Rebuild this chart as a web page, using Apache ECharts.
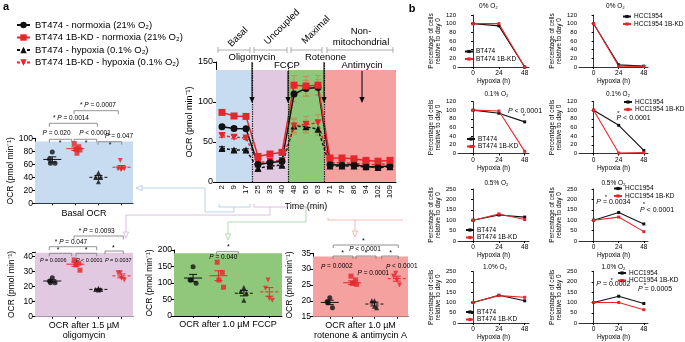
<!DOCTYPE html>
<html>
<head>
<meta charset="utf-8">
<script src="https://cdn.jsdelivr.net/npm/echarts@6/dist/echarts.min.js"></script>
<style>
  html, body { margin: 0; padding: 0; background: #fff; }
  #chart { width: 685px; height: 342px; }
</style>
</head>
<body>
<div id="chart"></div>
<script>
// ---- data: OCR time course (panel a, top) ----
const timeLabels = ['2', '9', '17', '25', '33', '40', '48', '56', '63', '71', '79', '86', '94', '102', '109'];
const ocrNormo = [69, 67, 66.5, 22, 24, 26, 110, 117, 118, 22, 21, 22, 19, 19, 20];
const ocrKdNormo = [87, 82.5, 82, 32, 35, 37, 121, 120, 121, 30, 30, 29, 27, 26, 27];
const ocrHypo = [42, 40, 40, 17, 20, 21, 70, 69, 66, 20, 20, 20, 19, 18, 19];
const ocrKdHypo = [58, 56, 55, 24, 26, 27, 70, 72, 74, 24, 24, 23, 22, 22, 23];
const errNormo = [2, 2, 2, 2, 2, 2, 10, 10, 10, 1.5, 1.5, 1.5, 1.5, 1.5, 1.5];
const errKdNormo = [2, 1.5, 1.5, 2, 2, 2, 12, 12, 12, 1.5, 1.5, 1.5, 1.5, 1.5, 1.5];
const errHypo = [2, 1.5, 1.5, 2, 2, 2, 8, 8, 8, 1.5, 1.5, 1.5, 1.5, 1.5, 1.5];
const errKdHypo = [2, 2, 2, 2, 2, 2, 10, 10, 10, 1.5, 1.5, 1.5, 1.5, 1.5, 1.5];

// ---- data: dot plots (groups: normoxia, 1B-KD normoxia, hypoxia, 1B-KD hypoxia) ----
const basalVals = [[79, 68, 61.5, 61.5], [92, 87, 83, 82, 77], [47, 40, 40, 33], [66, 53, 53, 53, 52]];
const basalMean = [67.5, 84, 40, 55.5];
const basalSem = [4, 2.7, 2.9, 2.7];
const oligoVals = [[26, 23.8, 22.7, 22.7], [37.8, 35.6, 34.5, 31], [18.9, 18.2, 18.2, 17.8], [29.3, 29.3, 25.6, 24.4]];
const oligoMean = [23.8, 35, 18.2, 27.2];
const oligoSem = [0.8, 1.4, 0.3, 1.3];
const fccpVals = [[149, 109, 109, 99], [163, 132, 109, 87], [86, 74, 69, 48], [109, 84, 53, 48]];
const fccpMean = [115, 122, 69, 73];
const fccpSem = [11, 15, 8, 13];
const rotVals = [[21, 19.7, 19.4, 17.8], [27.8, 26.6, 25.5, 25.2], [20, 20, 17.8, 18.3], [28.7, 27.8, 26.6, 25]];
const rotMean = [19.5, 25.7, 19, 27];
const rotSem = [0.7, 0.6, 0.6, 0.8];

// ---- data: panel b (percentage of cells relative to day 0) ----
const hours = [0, 24, 48];
const bt0 = [100, 95, 0], btKd0 = [100, 100, 0];
const hcc0 = [100, 5, 2], hccKd0 = [100, 2, 1];
const bt01 = [100, 93, 73], btKd01 = [100, 98, 5];
const hcc01 = [100, 65, 7], hccKd01 = [100, 1, 2];
const bt05 = [100, 125, 115], btKd05 = [100, 130, 103];
const hcc05 = [100, 137, 82], hccKd05 = [100, 115, 45];
const bt10 = [100, 135, 108], btKd10 = [100, 133, 125];
const hcc10 = [100, 130, 95], hccKd10 = [100, 100, 65];

const FONT = '"Liberation Sans", Arial, Helvetica, sans-serif';
const RED = '#e5262b', BLACK = '#111111';
const BLUE_BG = '#c7dcf1', PURPLE_BG = '#e1c9e2', GREEN_BG = '#8fc87a', PINK_BG = '#f4a19f';

const chart = echarts.init(document.getElementById('chart'));

const grids = [], xAxes = [], yAxes = [], series = [], legends = [];

// main time course
grids.push({ left: 216, top: 62, width: 180, height: 120 });
xAxes.push({
  gridIndex: 0, type: 'category', data: timeLabels,
  axisLine: { lineStyle: { color: '#000' } },
  axisTick: { alignWithLabel: true, length: 3, lineStyle: { color: '#000' } },
  axisLabel: { rotate: 90, fontSize: 8, margin: 3, color: '#000', fontFamily: FONT },
  name: 'Time (min)', nameLocation: 'middle', nameGap: 13,
  nameTextStyle: { fontSize: 9, color: '#000', fontFamily: FONT, verticalAlign: 'top' }
});
xAxes.push({ gridIndex: 0, type: 'value', min: 0, max: 15, show: false });
yAxes.push({
  gridIndex: 0, type: 'value', min: 0, max: 150, interval: 50,
  axisLine: { show: true, lineStyle: { color: '#000' } },
  axisTick: { show: true, length: 3, lineStyle: { color: '#000' } },
  axisLabel: { fontSize: 9, margin: 3, color: '#000', fontFamily: FONT },
  splitLine: { show: false },
  name: 'OCR (pmol min⁻¹)', nameLocation: 'middle', nameRotate: 90, nameGap: 20,
  nameTextStyle: { fontSize: 9, color: '#000', fontFamily: FONT }
});

// shaded phases + injection lines
series.push({
  type: 'line', xAxisIndex: 1, yAxisIndex: 0, data: [], silent: true,
  markArea: {
    silent: true,
    data: [
      [{ xAxis: 0, yAxis: 0, itemStyle: { color: BLUE_BG } }, { xAxis: 3, yAxis: 140 }],
      [{ xAxis: 3, yAxis: 0, itemStyle: { color: PURPLE_BG } }, { xAxis: 6, yAxis: 140 }],
      [{ xAxis: 6, yAxis: 0, itemStyle: { color: GREEN_BG } }, { xAxis: 9, yAxis: 140 }],
      [{ xAxis: 9, yAxis: 0, itemStyle: { color: PINK_BG } }, { xAxis: 15, yAxis: 140 }]
    ]
  },
  markLine: {
    silent: true, symbol: ['none', 'none'], label: { show: false },
    lineStyle: { type: 'dotted', color: '#000', width: 1.2 },
    data: [{ xAxis: 3 }, { xAxis: 6 }, { xAxis: 9 }]
  }
});

const mainDefs = [
  { name: 'BT474 - hypoxia (0.1% O₂)', data: ocrHypo, err: errHypo, color: BLACK, symbol: 'triangle', rot: 0, dash: [3, 2] },
  { name: 'BT474 1B-KD - hypoxia (0.1% O₂)', data: ocrKdHypo, err: errKdHypo, color: RED, symbol: 'triangle', rot: 180, dash: [3, 2] },
  { name: 'BT474 - normoxia (21% O₂)', data: ocrNormo, err: errNormo, color: BLACK, symbol: 'circle', rot: 0, dash: 'solid' },
  { name: 'BT474 1B-KD - normoxia (21% O₂)', data: ocrKdNormo, err: errKdNormo, color: RED, symbol: 'rect', rot: 0, dash: 'solid' }
];
mainDefs.forEach(d => {
  series.push({
    type: 'custom', xAxisIndex: 0, yAxisIndex: 0, silent: true,
    data: d.data.map((v, i) => [i, v, d.err[i]]),
    renderItem: (params, api) => {
      const top = api.coord([api.value(0), api.value(1) + api.value(2)]);
      const bot = api.coord([api.value(0), api.value(1) - api.value(2)]);
      const st = { stroke: api.value(2) > 5 ? '#b8955a' : d.color, lineWidth: 1 };
      return { type: 'group', children: [
        { type: 'line', shape: { x1: top[0], y1: top[1], x2: bot[0], y2: bot[1] }, style: st },
        { type: 'line', shape: { x1: top[0] - 3, y1: top[1], x2: top[0] + 3, y2: top[1] }, style: st },
        { type: 'line', shape: { x1: bot[0] - 3, y1: bot[1], x2: bot[0] + 3, y2: bot[1] }, style: st }
      ] };
    }
  });
});
mainDefs.forEach(d => {
  series.push({
    type: 'line', name: d.name, xAxisIndex: 0, yAxisIndex: 0, data: d.data,
    symbol: d.symbol, symbolRotate: d.rot, symbolSize: 7,
    lineStyle: { color: d.color, width: 1.5, type: d.dash },
    itemStyle: { color: d.color }, emphasis: { disabled: true }
  });
});
legends.push({
  data: ['BT474 - normoxia (21% O₂)', 'BT474 1B-KD - normoxia (21% O₂)', 'BT474 - hypoxia (0.1% O₂)', 'BT474 1B-KD - hypoxia (0.1% O₂)'],
  left: 16, top: 20, orient: 'vertical', itemGap: 2.5, itemWidth: 13, itemHeight: 8, padding: 0,
  selectedMode: false, textStyle: { fontSize: 9.5, color: '#000', fontFamily: FONT }
});

// ---- dot plots ----
const groupStyle = [
  { color: BLACK, symbol: 'circle', rot: 0 },
  { color: RED, symbol: 'rect', rot: 0 },
  { color: BLACK, symbol: 'triangle', rot: 0 },
  { color: RED, symbol: 'triangle', rot: 180 }
];
const jitter = [[0, -0.12, -0.08, 0.12], [-0.05, 0.15, 0.02, 0.2, 0.07], [0, -0.12, 0.1, 0], [-0.05, -0.15, 0, 0.12, -0.02]];
const dotPanels = [
  { vals: basalVals, mean: basalMean, sem: basalSem, left: 35, top: 138.3, width: 98, height: 65, min: 0, max: 100, iv: 20, shade: 95, bg: BLUE_BG, name: 'Basal OCR', gap: 5 },
  { vals: oligoVals, mean: oligoMean, sem: oligoSem, left: 35, top: 252.2, width: 98, height: 64.5, min: 0, max: 43, iv: 10, shade: 42.6, bg: PURPLE_BG, name: 'OCR after 1.5 µM\noligomycin', gap: 4 },
  { vals: fccpVals, mean: fccpMean, sem: fccpSem, left: 174, top: 250, width: 108, height: 66, min: 0, max: 200, iv: 50, shade: 190, bg: GREEN_BG, name: 'OCR after 1.0 µM FCCP', gap: 4 },
  { vals: rotVals, mean: rotMean, sem: rotSem, left: 313, top: 253.3, width: 95, height: 63.4, min: 15, max: 35, iv: 5, shade: 34, bg: PINK_BG, name: 'OCR after 1.0 µM\nrotenone & antimycin A', gap: 4 }
];
dotPanels.forEach(p => {
  const gi = grids.length;
  grids.push({ left: p.left, top: p.top, width: p.width, height: p.height });
  const xi = xAxes.length, yi = yAxes.length;
  xAxes.push({
    gridIndex: gi, type: 'value', min: 0.25, max: 4.5,
    axisLine: { show: true, lineStyle: { color: '#000' } },
    axisTick: { show: true, length: 2, customValues: [1, 2, 3, 4], lineStyle: { color: '#000' } },
    axisLabel: { show: false }, splitLine: { show: false },
    name: p.name, nameLocation: 'middle', nameGap: p.gap,
    nameTextStyle: { fontSize: 9, lineHeight: 10, color: '#000', fontFamily: FONT, verticalAlign: 'top' }
  });
  yAxes.push({
    gridIndex: gi, type: 'value', min: p.min, max: p.max, interval: p.iv,
    axisLine: { show: true, lineStyle: { color: '#000' } },
    axisTick: { show: true, length: 3, lineStyle: { color: '#000' } },
    axisLabel: { fontSize: 8.5, margin: 2, color: '#000', fontFamily: FONT,
      formatter: v => (v % p.iv === 0 ? String(v) : '') },
    splitLine: { show: false },
    name: 'OCR (pmol min⁻¹)', nameLocation: 'middle', nameRotate: 90, nameGap: 19,
    nameTextStyle: { fontSize: 8.5, color: '#000', fontFamily: FONT }
  });
  p.vals.forEach((vals, g) => {
    const gs = groupStyle[g];
    const s = {
      type: 'scatter', xAxisIndex: xi, yAxisIndex: yi, silent: true,
      data: vals.map((v, i) => [g + 1 + jitter[g][i], v]),
      symbol: gs.symbol, symbolRotate: gs.rot, symbolSize: 5,
      itemStyle: { color: gs.color }, z: 3
    };
    if (g === 0) {
      s.markArea = { silent: true, itemStyle: { color: p.bg },
        data: [[{ yAxis: p.min }, { yAxis: p.shade }]] };
    }
    series.push(s);
  });
  series.push({
    type: 'custom', xAxisIndex: xi, yAxisIndex: yi, silent: true, z: 4,
    data: p.mean.map((m, g) => [g + 1, m, p.sem[g], g]),
    renderItem: (params, api) => {
      const g = api.value(3), gs = groupStyle[g];
      const c = api.coord([api.value(0), api.value(1)]);
      const t = api.coord([api.value(0), api.value(1) + api.value(2)]);
      const b = api.coord([api.value(0), api.value(1) - api.value(2)]);
      const dash = g >= 2 ? [3, 2] : null;
      const st = { stroke: gs.color, lineWidth: 1 };
      return { type: 'group', children: [
        { type: 'line', shape: { x1: c[0] - 9, y1: c[1], x2: c[0] + 9, y2: c[1] }, style: { stroke: gs.color, lineWidth: 1, lineDash: dash } },
        { type: 'line', shape: { x1: c[0], y1: t[1], x2: c[0], y2: b[1] }, style: st },
        { type: 'line', shape: { x1: c[0] - 4, y1: t[1], x2: c[0] + 4, y2: t[1] }, style: st },
        { type: 'line', shape: { x1: c[0] - 4, y1: b[1], x2: c[0] + 4, y2: b[1] }, style: st }
      ] };
    }
  });
});

// ---- panel b small line charts ----
const bPanels = [
  { a: bt0, b: btKd0, names: ['BT474', 'BT474 1B-KD'], col: 0, row: 0, title: '0% O₂', leg: [464, 48] },
  { a: hcc0, b: hccKd0, names: ['HCC1954', 'HCC1954 1B-KD'], col: 1, row: 0, title: '0% O₂', leg: [622, 13] },
  { a: bt01, b: btKd01, names: ['BT474', 'BT474 1B-KD'], col: 0, row: 1, title: '0.1% O₂', leg: [466, 135.5] },
  { a: hcc01, b: hccKd01, names: ['HCC1954', 'HCC1954 1B-KD'], col: 1, row: 1, title: '0.1% O₂', leg: [623, 98.5] },
  { a: bt05, b: btKd05, names: ['BT474', 'BT474 1B-KD'], col: 0, row: 2, title: '0.5% O₂', leg: [465, 226.5] },
  { a: hcc05, b: hccKd05, names: ['HCC1954', 'HCC1954 1B-KD'], col: 1, row: 2, title: '0.5% O₂', leg: [613, 185] },
  { a: bt10, b: btKd10, names: ['BT474', 'BT474 1B-KD'], col: 0, row: 3, title: '1.0% O₂', leg: [465, 308.5] },
  { a: hcc10, b: hccKd10, names: ['HCC1954', 'HCC1954 1B-KD'], col: 1, row: 3, title: '1.0% O₂', leg: [617, 269.5] }
];
const rowTops = [15, 101.5, 189, 271.5];
const titleY = [6, 94.5, 183, 267.5];
bPanels.forEach(p => {
  const gi = grids.length;
  grids.push({ left: p.col ? 579 : 458, top: rowTops[p.row], width: p.col ? 69 : 71, height: 52 });
  const xi = xAxes.length, yi = yAxes.length;
  const big = p.row >= 2;
  xAxes.push({
    gridIndex: gi, type: 'value', min: -14, max: 52,
    axisLine: { show: true, lineStyle: { color: '#000', width: 0.8 } },
    axisTick: { show: true, length: 2, customValues: hours, lineStyle: { color: '#000' } },
    axisLabel: { customValues: hours, fontSize: 6.5, margin: 3, color: '#000', fontFamily: FONT },
    splitLine: { show: false },
    name: 'Hypoxia (h)', nameLocation: 'middle', nameGap: 10,
    nameTextStyle: { fontSize: 6.5, color: '#000', fontFamily: FONT }
  });
  yAxes.push({
    gridIndex: gi, type: 'value', min: 0, max: big ? 250 : 120, interval: big ? 50 : 20,
    axisLine: { show: true, lineStyle: { color: '#000', width: 0.8 } },
    axisTick: { show: true, length: 2, lineStyle: { color: '#000' } },
    axisLabel: { fontSize: 6, margin: 2, color: '#000', fontFamily: FONT },
    splitLine: { show: false },
    name: 'Percentage of cells\nrelative to day 0', nameLocation: 'middle', nameRotate: 90, nameGap: 16,
    nameTextStyle: { fontSize: 6.5, lineHeight: 7.5, color: '#000', fontFamily: FONT }
  });
  [[p.a, p.names[0], BLACK], [p.b, p.names[1], RED]].forEach(([vals, nm, col]) => {
    series.push({
      type: 'line', name: nm, xAxisIndex: xi, yAxisIndex: yi,
      data: vals.map((v, i) => [hours[i], v]),
      symbol: 'rect', symbolSize: 3, lineStyle: { color: col, width: 1.1 },
      itemStyle: { color: col }, emphasis: { disabled: true }
    });
  });
  legends.push({
    data: p.names, left: p.leg[0], top: p.leg[1], orient: 'vertical', itemGap: 0.5,
    itemWidth: 8, itemHeight: 4, padding: 0, selectedMode: false,
    textStyle: { fontSize: 6.5, color: '#000', fontFamily: FONT, padding: [0, 0, 0, -2] }
  });
});

// ---- annotations ----
const gfx = [];
const T = (x, y, text, o, rot) => gfx.push({ type: 'text', x, y, rotation: rot || 0, silent: true, z: 100,
  style: Object.assign({ text, fontSize: 7, fill: '#000', align: 'center', verticalAlign: 'middle', fontFamily: FONT,
    rich: { i: { fontStyle: 'italic', fontSize: (o && o.fontSize) || 7, fontFamily: FONT } } }, o || {}) });
const L = (pts, o) => gfx.push({ type: 'polyline', silent: true, z: 100, shape: { points: pts },
  style: Object.assign({ stroke: '#777', lineWidth: 0.8, fill: null }, o || {}) });
const BR = (x1, x2, y, h, o) => L([[x1, y + h], [x1, y], [x2, y], [x2, y + h]], o);
const HEAD = (pts, col) => gfx.push({ type: 'polygon', silent: true, z: 100, shape: { points: pts },
  style: { fill: '#fff', stroke: col, lineWidth: 0.8 } });
const ARROW = (x, y1, y2, col) => {
  L([[x, y1], [x, y2 - 5]], { stroke: col, lineWidth: 1 });
  gfx.push({ type: 'polygon', silent: true, z: 100, shape: { points: [[x - 2.6, y2 - 6], [x + 2.6, y2 - 6], [x, y2]] },
    style: { fill: col } });
};

T(6, 7, 'a', { fontSize: 11, fontWeight: 'bold' });
T(412, 9, 'b', { fontSize: 11, fontWeight: 'bold' });

// phase brackets above main chart
[[218, 250], [254, 287], [291, 322], [327, 393]].forEach(([a, b]) => {
  L([[a, 47], [a, 53]], { stroke: '#999' }); L([[a, 50], [b, 50]], { stroke: '#999' }); L([[b, 47], [b, 53]], { stroke: '#999' });
});
T(238, 37, 'Basal', { fontSize: 9.5 }, Math.PI / 4);
T(282, 27, 'Uncoupled', { fontSize: 9.5 }, Math.PI / 4);
T(316, 30, 'Maximal', { fontSize: 9.5 }, Math.PI / 4);
T(361, 31, 'Non-', { fontSize: 9.5 });
T(361, 42, 'mitochondrial', { fontSize: 9.5 });
T(252, 57, 'Oligomycin', { fontSize: 9.5 });
T(287, 65.5, 'FCCP', { fontSize: 9.5 });
T(325.5, 57, 'Rotenone', { fontSize: 9.5 });
T(362, 65.5, 'Antimycin', { fontSize: 9.5 });
ARROW(252, 62, 103, '#000');
ARROW(288, 71, 103, '#000');
ARROW(324, 62, 103, '#000');
ARROW(362, 71, 103, '#000');

// connectors from time course to dot plots
const CB = '#a9c6e6', CP = '#d3b3d4', CG = '#9fd39a', CK = '#f3aaa3';
L([[219, 204], [219, 207], [250, 207], [250, 204]], { stroke: CB });
L([[234, 207], [234, 212], [205, 212], [205, 188], [142, 188]], { stroke: CB });
HEAD([[136, 188], [142, 185.5], [142, 190.5]], CB);
L([[254, 204], [254, 207], [287, 207], [287, 204]], { stroke: CP });
L([[270, 207], [270, 215], [126, 215], [126, 232]], { stroke: CP });
HEAD([[123.4, 232], [128.6, 232], [126, 238]], CP);
L([[291, 204], [291, 207], [322, 207], [322, 204]], { stroke: '#aaa' });
L([[306, 207], [306, 222], [228, 222], [228, 234]], { stroke: CG });
HEAD([[225.4, 234], [230.6, 234], [228, 240]], CG);
L([[328, 218], [328, 220], [403, 220]], { stroke: CK });
L([[355, 220], [355, 231]], { stroke: CK });
HEAD([[352.4, 231], [357.6, 231], [355, 237]], CK);

// basal OCR significance
BR(74, 118.3, 110.7, 3.5); T(98, 105.5, '* {i|P} = 0.0007', { fontSize: 6.5 });
BR(49.3, 97.3, 123.3, 3.5); T(71, 118, '* {i|P} = 0.0014', { fontSize: 6.5 });
T(56.5, 133.3, '{i|P} = 0.020', { fontSize: 6.5 });
T(95, 133.3, '{i|P} < 0.0001', { fontSize: 6.5 });
T(119, 136, '{i|P} = 0.047', { fontSize: 6.5 });
BR(49.3, 71.7, 139.3, 3); T(60, 143, '*', { fontSize: 7 });
BR(74, 96.7, 139.3, 3); T(86, 143, '*', { fontSize: 7 });
BR(98, 121.7, 141.7, 3); T(110, 145.5, '*', { fontSize: 7 });

// oligomycin significance
BR(74, 123.3, 236, 3.5); T(96.7, 231.5, '* {i|P} = 0.0093', { fontSize: 6.5 });
BR(49.3, 96.7, 246.7, 3.5); T(71, 242.3, '* {i|P} = 0.047', { fontSize: 6.5 });
BR(49.3, 71.7, 253.3, 3); T(58, 250.5, '*', { fontSize: 7 });
BR(76, 96.7, 253.3, 3); T(86, 250.5, '*', { fontSize: 7 });
BR(105, 123.3, 251, 3); T(113.3, 248, '*', { fontSize: 7 });
T(53.3, 260, '{i|P} = 0.0006', { fontSize: 5.5 });
T(89.3, 260, '{i|P} < 0.0001', { fontSize: 5.5 });
T(118.3, 260, '{i|P} = 0.0037', { fontSize: 5.5 });

// FCCP significance
BR(216.7, 238.3, 251.7, 3); T(228.3, 247.5, '*', { fontSize: 7 });
T(223.3, 257.3, '{i|P} = 0.040', { fontSize: 6.5 });

// rotenone & antimycin significance
BR(333.3, 398.3, 245, 3); T(363.3, 241.5, '*', { fontSize: 7 });
T(365, 249.5, '{i|P} < 0.0001', { fontSize: 6.5 });
BR(333, 353, 256, 3); T(342.7, 253, '*', { fontSize: 7 });
BR(356, 376, 256, 3); T(366, 253, '*', { fontSize: 7 });
BR(381.7, 398.3, 256, 3); T(390.7, 253, '*', { fontSize: 7 });
T(336.7, 266.7, '{i|P} = 0.0002', { fontSize: 6.5 });
T(373.3, 273.3, '{i|P} = 0.0001', { fontSize: 6.5 });
T(401.7, 266.7, '{i|P} < 0.0001', { fontSize: 6.5 });

// panel b titles and p-values
T(488.5, titleY[0], '0% O₂', { fontSize: 6.5 });
T(615.5, titleY[0], '0% O₂', { fontSize: 6.5 });
T(496.5, titleY[1], '0.1% O₂', { fontSize: 6.5 });
T(618, titleY[1], '0.1% O₂', { fontSize: 6.5 });
T(496.5, titleY[2], '0.5% O₂', { fontSize: 6.5 });
T(613.5, titleY[2], '0.5% O₂', { fontSize: 6.5 });
T(495, titleY[3], '1.0% O₂', { fontSize: 6.5 });
T(613.5, titleY[3], '1.0% O₂', { fontSize: 6.5 });
T(525, 111, '{i|P} < 0.0001', { fontSize: 7 });
T(524, 116.5, '*', { fontSize: 6 });
T(618.3, 113.3, '*', { fontSize: 6 });
T(616.5, 118.3, '{i|P} < 0.0001', { fontSize: 7, align: 'left' });
T(606, 197.5, '*', { fontSize: 6 });
T(613.3, 202.3, '{i|P} = 0.0034', { fontSize: 7 });
T(644, 204.3, '*', { fontSize: 6 });
T(640, 210, '{i|P} < 0.0001', { fontSize: 7, align: 'left' });
T(611.7, 280, '*', { fontSize: 6 });
T(613.3, 284, '{i|P} = 0.0002', { fontSize: 7 });
T(645, 285, '*', { fontSize: 6 });
T(638, 289, '{i|P} = 0.0005', { fontSize: 7, align: 'left' });

chart.setOption({
  animation: false,
  textStyle: { fontFamily: FONT },
  grid: grids,
  xAxis: xAxes,
  yAxis: yAxes,
  legend: legends,
  series: series,
  graphic: { elements: gfx }
});
</script>
</body>
</html>
